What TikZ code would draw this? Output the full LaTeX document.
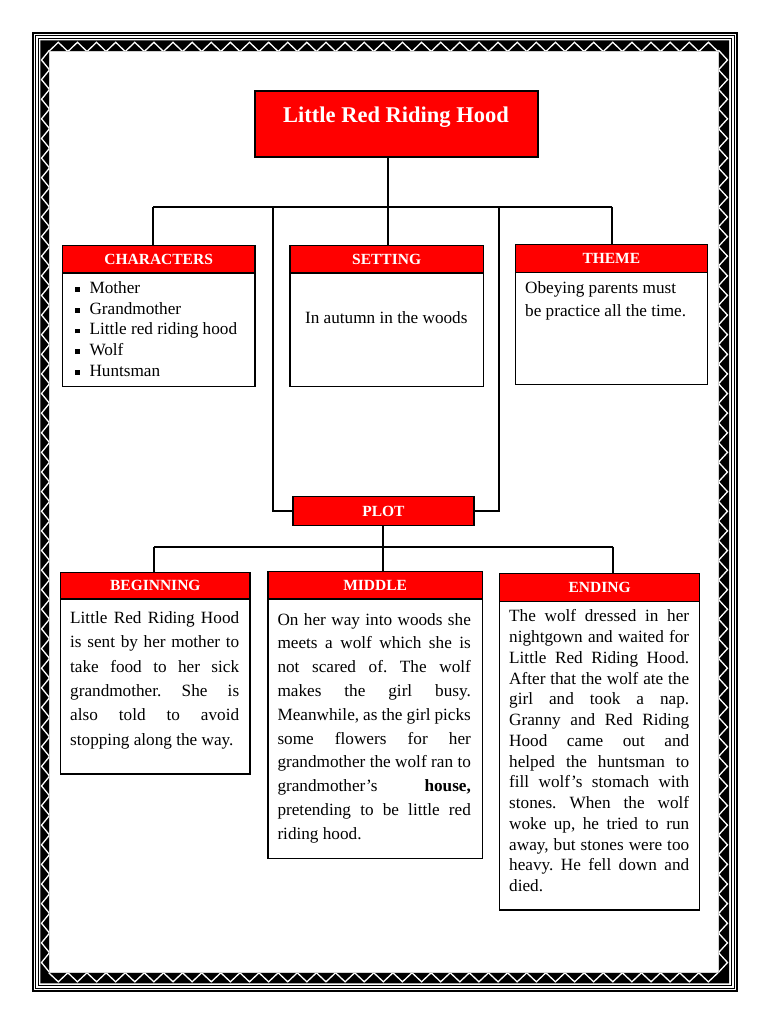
\documentclass[tikz,border=0pt]{standalone}
\usepackage{fontspec}
\setmainfont{Liberation Serif}
\frenchspacing
\newcommand\hdrfont{\fontsize{15.5}{18}\selectfont\bfseries}
\newcommand\bodyfont{\fontsize{17.2}{20.7}\selectfont}
\newlength\jw
\newcommand\jl[1]{\noindent\makebox[\jw][s]{#1}\par}
\newcommand\bul{\noindent\raisebox{1.4pt}{\rule{4.6pt}{4.6pt}}\hspace{9.7pt}}
\definecolor{hred}{RGB}{255,0,0}
\tikzset{
  hdr/.style={draw=black, line width=1.3pt, fill=hred, text=white, font=\hdrfont, inner sep=0pt, anchor=north west},
  bod/.style={draw=black, line width=1.3pt, fill=white, inner sep=0pt, anchor=north west},
  txt/.style={anchor=base west, inner sep=0pt},
  conn/.style={draw=black, line width=1.7pt},
  zig/.style={draw=white, line width=1.3pt, line join=miter}
}
\begin{document}
\begin{tikzpicture}[x=1pt,y=-1pt]
\useasboundingbox (0,0) rectangle (768,1024);
\fill[white] (0,0) rectangle (768,1024);
% ---------- decorative border ----------
\draw[line width=1.2pt] (33,33) rectangle (737,991);
\draw[line width=1pt] (35.8,35.8) rectangle (734.2,988.2);
\draw[line width=1.2pt] (38.4,38.4) rectangle (731.4,985.6);
\fill[black, even odd rule] (40.3,40.3) rectangle (729,983.3) (49.5,51.5) rectangle (718.5,972.8);
\foreach \i in {0,...,34}{
  \draw[zig] ({58.3+19.12*\i-9.56},51.5) -- ({58.3+19.12*\i},42.3) -- ({58.3+19.12*\i+9.56},51.5);
  \draw[zig] ({58.3+19.12*\i-9.56},972.8) -- ({58.3+19.12*\i},981.8) -- ({58.3+19.12*\i+9.56},972.8);
}
\foreach \i in {0,...,46}{
  \draw[zig] (49.5,{60+19.62*\i-9.81}) -- (41.5,{60+19.62*\i}) -- (49.5,{60+19.62*\i+9.81});
  \draw[zig] (718.5,{60+19.62*\i-9.81}) -- (727.5,{60+19.62*\i}) -- (718.5,{60+19.62*\i+9.81});
}
\draw[gray!35, line width=0.8pt] (49.5,51.5) rectangle (718.5,972.8);
% ---------- title ----------
\node[hdr, line width=1.8pt, minimum width=283pt, minimum height=66pt] (title) at (254.3,90) {};
\node[anchor=base, inner sep=0pt, text=white, font=\fontsize{22.5}{26}\selectfont\bfseries] (titlet) at (396,122.7) {Little Red Riding Hood};
% ---------- bodies ----------
\node[bod, minimum width=192.6pt, minimum height=113.7pt] (charb) at (61.7,272.3) {};
\node[bod, minimum width=193.4pt, minimum height=113.7pt] (setb) at (289.3,272.3) {};
\node[bod, minimum width=192pt, minimum height=112.3pt] (themeb) at (514.7,271.7) {};
\node[bod, minimum width=189.3pt, minimum height=175pt] (begb) at (60,598.3) {};
\node[bod, minimum width=214.4pt, minimum height=259.4pt] (midb) at (267.3,598.3) {};
\node[bod, minimum width=200pt, minimum height=308.6pt] (endb) at (499,600.7) {};
% ---------- headers ----------
\node[hdr, minimum width=192.6pt, minimum height=27.3pt] (charh) at (61.7,245) {CHARACTERS};
\node[hdr, minimum width=193.4pt, minimum height=27.3pt] (seth) at (289.3,245) {SETTING};
\node[hdr, minimum width=192pt, minimum height=27.7pt] (themeh) at (514.7,244) {THEME};
\node[hdr, minimum width=181pt, minimum height=29pt] (ploth) at (292.3,496) {PLOT};
\node[hdr, minimum width=189.3pt, minimum height=26.6pt] (begh) at (60,571.7) {BEGINNING};
\node[hdr, minimum width=214.4pt, minimum height=27.3pt] (midh) at (267.3,571) {MIDDLE};
\node[hdr, minimum width=200pt, minimum height=28pt] (endh) at (499,572.7) {ENDING};
% ---------- texts ----------
\node[txt] (chart) at (75,293.3) {\parbox[t]{175pt}{\fontsize{17.2}{20.7}\selectfont
  \bul Mother\par \bul Grandmother\par \bul Little red riding hood\par \bul Wolf\par \bul Huntsman}};
\node[anchor=base, inner sep=0pt, font=\bodyfont] (sett) at (386.3,323.3) {In autumn in the woods};
\node[txt] (themet) at (525,293.3) {\parbox[t]{180pt}{\fontsize{17.2}{23.4}\selectfont
  Obeying parents must\par be practice all the time.}};
\node[txt] (begt) at (70,623.3) {\parbox[t]{169pt}{\fontsize{17.2}{24.35}\selectfont\setlength\jw{169pt}%
  \jl{Little Red Riding Hood}\jl{is sent by her mother to}\jl{take food to her sick}%
  \jl{grandmother. She is}\jl{also told to avoid}\noindent stopping along the way.}};
\node[txt] (midt) at (277.3,625) {\parbox[t]{193.4pt}{\fontsize{17.2}{23.8}\selectfont\setlength\jw{193.4pt}%
  \jl{On her way into woods she}\jl{meets a wolf which she is}\jl{not scared of. The wolf}%
  \jl{makes the girl busy.}\jl{Meanwhile, as the girl picks}\jl{some flowers for her}%
  \jl{grandmother the wolf ran to}\jl{grandmother’s \textbf{house,}}%
  \jl{pretending to be little red}\noindent riding hood.}};
\node[txt] (endt) at (509,621.7) {\parbox[t]{180pt}{\fontsize{17.2}{20.77}\selectfont\setlength\jw{180pt}%
  \jl{The wolf dressed in her}\jl{nightgown and waited for}\jl{Little Red Riding Hood.}%
  \jl{After that the wolf ate the}\jl{girl and took a nap.}\jl{Granny and Red Riding}%
  \jl{Hood came out and}\jl{helped the huntsman to}\jl{fill wolf's stomach with}%
  \jl{stones. When the wolf}\jl{woke up, he tried to run}\jl{away, but stones were too}%
  \jl{heavy. He fell down and}\noindent died.}};
% ---------- connectors ----------
\coordinate (j1) at (388.3,206.7);
\coordinate (a1) at (153.3,206.7);
\coordinate (a2) at (272.7,206.7);
\coordinate (a4) at (499.3,206.7);
\coordinate (a5) at (612.3,206.7);
\coordinate (j2) at (383.3,546.7);
\coordinate (b1) at (153.8,546.7);
\coordinate (b3) at (613,546.7);
\draw[conn] (title.south -| j1) -- (j1);
\draw[conn] (a1) -- (a5);
\draw[conn] (a1) -- (a1 |- charh.north);
\draw[conn] (j1) -- (j1 |- seth.north);
\draw[conn] (a5) -- (a5 |- themeh.north);
\draw[conn] (a2) -- (a2 |- ploth.west) -- (ploth.west);
\draw[conn] (a4) -- (a4 |- ploth.east) -- (ploth.east);
\draw[conn] (ploth.south -| j2) -- (j2);
\draw[conn] (b1) -- (b3);
\draw[conn] (b1) -- (b1 |- begh.north);
\draw[conn] (j2) -- (j2 |- midh.north);
\draw[conn] (b3) -- (b3 |- endh.north);
\end{tikzpicture}
\end{document}
